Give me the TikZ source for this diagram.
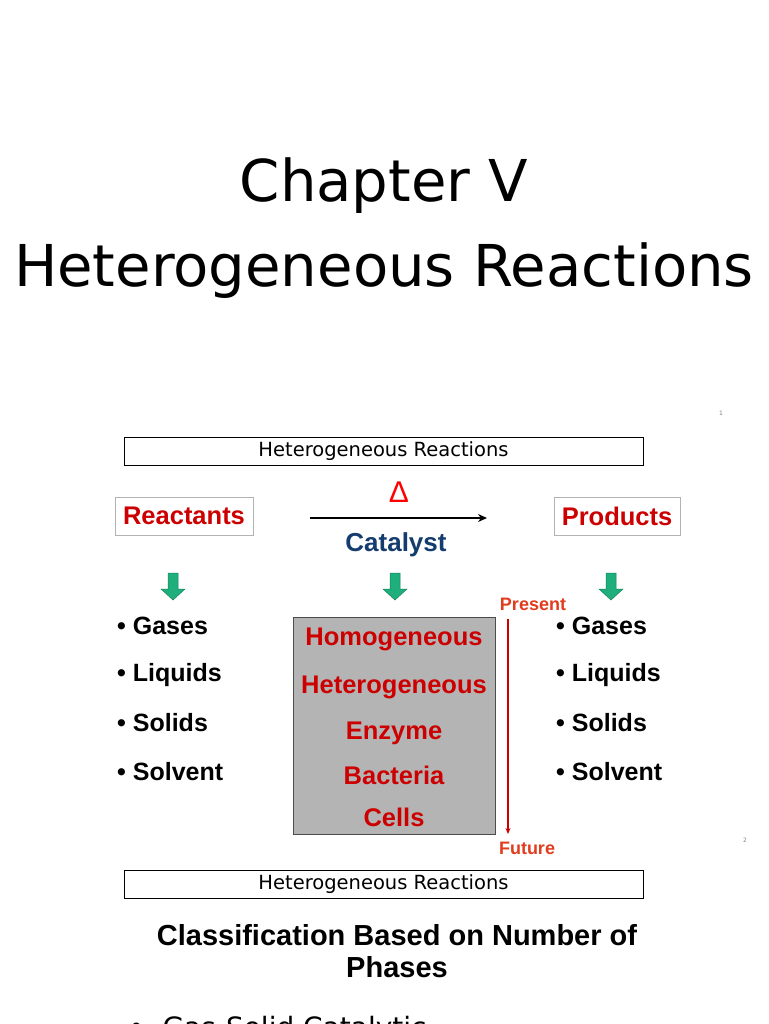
\documentclass[tikz,border=0pt]{standalone}
\usepackage{fontspec}
\setmainfont{DejaVu Sans}
\newfontfamily\arial{Liberation Sans}
\usetikzlibrary{arrows.meta}
\definecolor{slidered}{RGB}{204,0,0}
\definecolor{catblue}{RGB}{20,60,110}
\definecolor{timered}{RGB}{225,60,30}
\definecolor{greenarrow}{RGB}{30,175,125}
\definecolor{boxgray}{RGB}{180,180,180}
\tikzset{
  titletext/.style={font=\fontsize{57.7}{60}\selectfont, text=black},
  headerbox/.style={draw=black, line width=0.8pt, minimum width=519pt, minimum height=28pt, inner sep=0pt, font=\fontsize{19.5}{21}\selectfont},
  termbox/.style={draw=gray!60, line width=0.8pt, inner sep=0pt, minimum height=38pt, font=\arial\bfseries\fontsize{25.5}{27}\selectfont, text=slidered},
  listitem/.style={anchor=west, font=\arial\bfseries\fontsize{25}{27}\selectfont, text=black, inner sep=0pt},
  cattext/.style={font=\arial\bfseries\fontsize{25.5}{27}\selectfont, text=slidered, inner sep=0pt},
  timetext/.style={font=\arial\bfseries\fontsize{18}{20}\selectfont, text=timered, inner sep=0pt},
  greenfill/.style={fill=greenarrow, draw=greenarrow!75!black, line width=0.5pt, line join=miter},
  pagenum/.style={font=\fontsize{6}{7}\selectfont, text=gray, inner sep=0pt},
}
\begin{document}
\begin{tikzpicture}[x=1pt,y=-1pt]
\useasboundingbox (0,0) rectangle (768,1024);
\fill[white] (0,0) rectangle (768,1024);
\node[titletext] (t1) at (384,186) {Chapter V};
\node[titletext] (t2) at (384,271) {Heterogeneous Reactions};
\node[pagenum] (p1) at (721,413) {1};
\node[headerbox] (h1) at (383.5,451.5) {Heterogeneous Reactions};
\node[termbox, minimum width=138pt] (react) at (184,516) {Reactants};
\node[termbox, minimum width=126pt] (prod) at (617,516) {Products};
\coordinate (a1) at (310,518);
\coordinate (a2) at (487,518);
\draw[line width=2.2pt, -{Stealth[length=9pt,width=8pt]}] (a1) -- (a2);
\node[font=\arial\fontsize{30}{32}\selectfont, text=red, inner sep=0pt] (delta) at (399,492) {Δ};
\node[font=\arial\bfseries\fontsize{26}{28}\selectfont, text=catblue, inner sep=0pt] (cat) at (396,545) {Catalyst};
\foreach \n/\x in {g1/173,g2/395,g3/611}{
  \coordinate (\n) at (\x,573);
  \draw[greenfill] (\n) ++(-5,0) -- ++(10,0) -- ++(0,16) -- ++(7,0) -- ++(-12,11) -- ++(-12,-11) -- ++(7,0) -- cycle;
}
\foreach \y/\t [count=\i] in {626/Gases,675/Liquids,723/Solids,772/Solvent}{
  \node[listitem] (l\i) at (117,\y) {\textbullet\ \t};
  \node[listitem] (r\i) at (556,\y) {\textbullet\ \t};
}
\node[draw=black!70, line width=1pt, fill=boxgray, minimum width=202pt, minimum height=217pt, inner sep=0pt] (cbox) at (394,725.5) {};
\node[cattext] (c1) at (394,639) {Homogeneous};
\node[cattext] (c2) at (394,687) {Heterogeneous};
\node[cattext] (c3) at (394,733) {Enzyme};
\node[cattext] (c4) at (394,775) {Bacteria};
\node[cattext] (c5) at (394,817) {Cells};
\node[timetext] (pres) at (533,604) {Present};
\node[timetext] (fut) at (527,848) {Future};
\coordinate (ta) at (508,619);
\coordinate (tb) at (508,834);
\draw[draw=slidered, line width=1.2pt, -{Stealth[length=6pt,width=5pt]}] (ta) -- (tb);
\node[pagenum] (p2) at (745,840) {2};
\node[headerbox] (h2) at (383.5,884.5) {Heterogeneous Reactions};
\node[font=\arial\bfseries\fontsize{29}{31}\selectfont, align=center, inner sep=0pt] (cls) at (397,951) {Classification Based on Number of\\[1pt]Phases};
\node[anchor=west, font=\fontsize{28}{30}\selectfont, inner sep=0pt] (gs) at (128,1030) {\textbullet\ \ Gas-Solid Catalytic};
\end{tikzpicture}
\end{document}
